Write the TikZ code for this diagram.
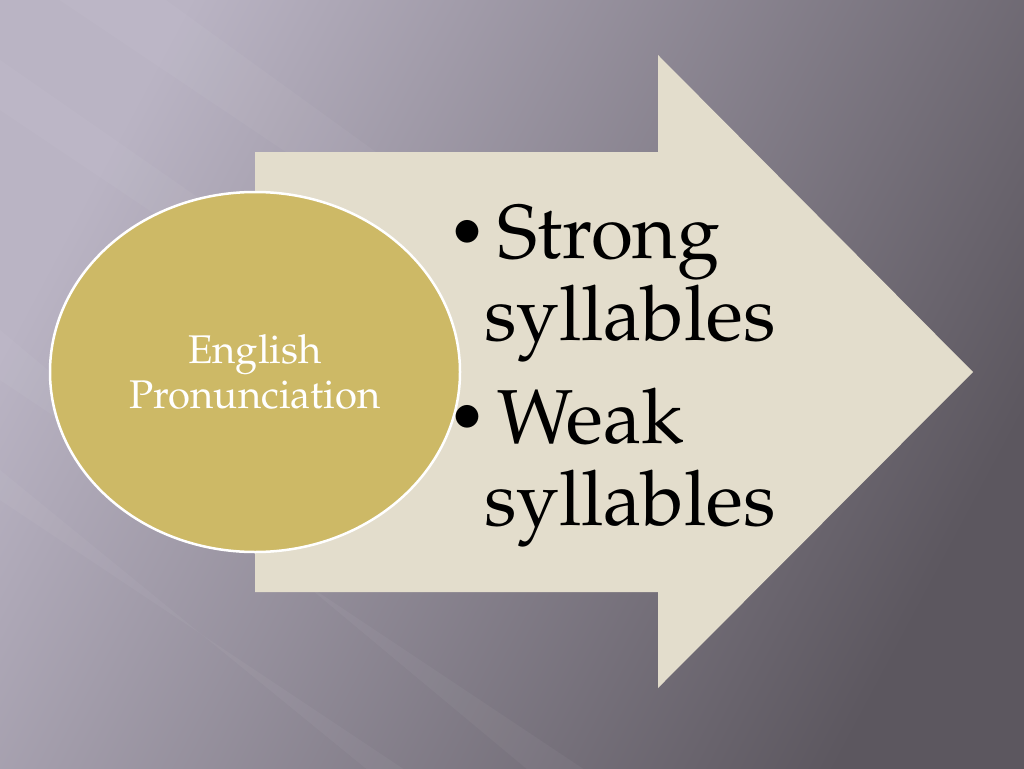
\documentclass[tikz,border=0pt]{standalone}
\usepackage[T1]{fontenc}
\usepackage{mathpazo}
\usepackage{tikz}
\usetikzlibrary{shapes.geometric,positioning}
\definecolor{bglight}{RGB}{186,180,196}
\definecolor{bgmid}{RGB}{128,123,134}
\definecolor{bgdark}{RGB}{92,87,95}
\definecolor{arrowfill}{RGB}{227,221,204}
\definecolor{goldfill}{RGB}{205,185,102}
\newcommand{\itemdot}{\llap{\raisebox{4pt}{\fontsize{66}{66}\selectfont\textbullet}\hspace{-3pt}}\hspace{13pt}}

\begin{document}
\begin{tikzpicture}[x=1pt,y=-1pt,
  item/.style={anchor=base west, align=left, inner sep=0pt, text=black,
    font=\fontsize{76.5}{82}\selectfont},
  streak/.style={fill=white, opacity=0.04}]
\useasboundingbox (0,0) rectangle (1024,768);
\shade[top color=bglight, middle color=bgmid, bottom color=bgdark, shading angle=62] (0,0) rectangle (1024,768);
\fill[streak] (0,-120) -- (0,-40) -- (700,430) -- (760,430) -- cycle;
\fill[streak] (0,60) -- (0,110) -- (700,580) -- (720,560) -- cycle;
\fill[streak] (0,330) -- (0,380) -- (600,780) -- (540,780) -- cycle;
\fill[streak] (0,470) -- (0,500) -- (420,780) -- (380,780) -- cycle;

\coordinate (bodytop) at (255,152);
\coordinate (tip) at (973,372);
\fill[arrowfill] (bodytop) -- (658,152) -- (658,55) -- (tip) -- (658,688) -- (658,592) -- (255,592) -- cycle;

\node[ellipse, draw=white, line width=2.5pt, fill=goldfill, minimum width=410pt, minimum height=360pt,
  inner sep=0pt, align=center, text=white, font=\fontsize{40}{45}\selectfont] (pron) at (255,372) {English\\Pronunciation};

\node[item] (strong) at (484,340) {\itemdot Strong\\syllables};
\node[item] (weak) at (484,525) {\itemdot Weak\\syllables};
\end{tikzpicture}
\end{document}
